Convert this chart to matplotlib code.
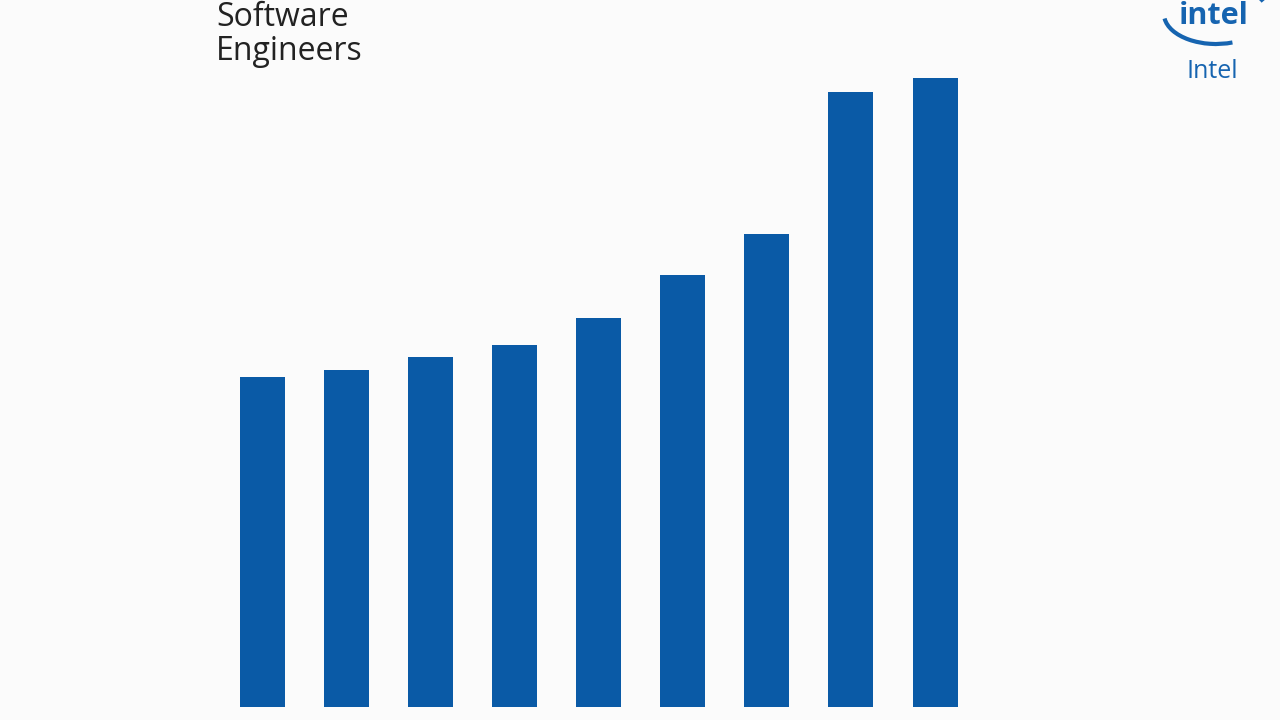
import matplotlib
matplotlib.use("Agg")
import matplotlib.pyplot as plt
from matplotlib.patches import Arc

categories = ["1", "2", "3", "4", "5", "6", "7", "8", "9"]
values = [330, 337, 350, 362, 389, 432, 473, 615, 629]
title_lines = ["Software", "Engineers"]
brand = "Intel"

W, H = 1280, 720
fig = plt.figure(figsize=(W / 100, H / 100), dpi=100)
fig.patch.set_facecolor("#fbfbfb")

ax = fig.add_axes([0, 13 / H, 1, 707 / H])
ax.set_facecolor("none")
x = list(range(len(categories)))
step = 84.125
ax.bar(x, values, width=45 / step, color="#0a5aa6", edgecolor="none")
ax.set_xlim(-262 / step, (W - 262) / step)
ax.set_ylim(0, 707)
ax.axis("off")

# Title (one text, two lines)
fig.text(216 / W, 1 - 1 / H, "\n".join(title_lines), fontsize=23,
         family="Open Sans", color="#222222", va="top", ha="left",
         linespacing=1.05)

# Intel logo
fig.text(1214 / W, 1 - 16 / H, "intel", fontsize=22, family="Open Sans",
         color="#1664b0", va="center", ha="center", weight="bold")
logo_ax = fig.add_axes([1160 / W, 1 - 52 / H, 110 / W, 60 / H])
logo_ax.set_xlim(0, 110)
logo_ax.set_ylim(0, 60)
logo_ax.axis("off")
logo_ax.add_patch(Arc((56, 38), 104, 60, theta1=185, theta2=300,
                      color="#1664b0", lw=3))
logo_ax.add_patch(Arc((56, 38), 104, 60, theta1=15, theta2=75,
                      color="#1664b0", lw=3))
fig.text(1212 / W, 1 - 71 / H, brand, fontsize=18, family="Open Sans",
         color="#1664b0", va="center", ha="center")

fig.savefig("out.png", dpi=100, facecolor=fig.get_facecolor())
